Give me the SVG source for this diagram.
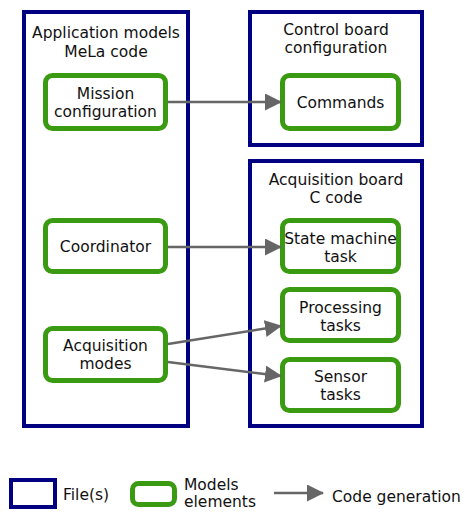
<svg xmlns="http://www.w3.org/2000/svg" width="474" height="527" viewBox="0 0 474 527">
<style>
.file{fill:#fff;stroke:#000080;stroke-width:4}
.model{fill:#fff;stroke:#3a9a12;stroke-width:5}
.t{font-family:"DejaVu Sans",sans-serif;font-size:15.5px;fill:#111;text-anchor:middle}
.tl{font-family:"DejaVu Sans",sans-serif;font-size:15.5px;fill:#111}
.c{stroke:#666;stroke-width:2.5;fill:none;marker-end:url(#ah)}
</style>
<defs>
<marker id="ah" markerUnits="userSpaceOnUse" markerWidth="18" markerHeight="18" refX="16" refY="8.5" orient="auto">
<path d="M0,0 L17,8.5 L0,17 Z" fill="#666"/>
</marker>
</defs>
<rect width="474" height="527" fill="#fff"/>
<g id="app-file">
<rect class="file" x="24" y="12" width="164" height="414"/>
<text class="t" x="106" y="38">Application models</text>
<text class="t" x="106" y="57">MeLa code</text>
</g>
<g id="control-file">
<rect class="file" x="250" y="12" width="172" height="133"/>
<text class="t" x="336" y="35">Control board</text>
<text class="t" x="336" y="53">configuration</text>
</g>
<g id="acq-file">
<rect class="file" x="250" y="161" width="172" height="265"/>
<text class="t" x="336" y="185">Acquisition board</text>
<text class="t" x="336" y="203">C code</text>
</g>
<g id="mission">
<rect class="model" x="45.5" y="75.5" width="120" height="53" rx="7"/>
<text class="t" x="105.5" y="99">Mission</text>
<text class="t" x="105.5" y="117">configuration</text>
</g>
<g id="coordinator">
<rect class="model" x="45.5" y="220.5" width="120" height="51" rx="7"/>
<text class="t" x="105.5" y="252">Coordinator</text>
</g>
<g id="acq-modes">
<rect class="model" x="45.5" y="328.5" width="120" height="52" rx="7"/>
<text class="t" x="105.5" y="351">Acquisition</text>
<text class="t" x="105.5" y="369">modes</text>
</g>
<g id="commands">
<rect class="model" x="282.5" y="75.5" width="116" height="53" rx="7"/>
<text class="t" x="340.5" y="108">Commands</text>
</g>
<g id="state-machine">
<rect class="model" x="282.5" y="220.5" width="116" height="51" rx="7"/>
<text class="t" x="340.5" y="244">State machine</text>
<text class="t" x="340.5" y="262">task</text>
</g>
<g id="processing">
<rect class="model" x="282.5" y="289.5" width="116" height="51" rx="7"/>
<text class="t" x="340.5" y="313">Processing</text>
<text class="t" x="340.5" y="331">tasks</text>
</g>
<g id="sensor">
<rect class="model" x="282.5" y="359.5" width="116" height="51" rx="7"/>
<text class="t" x="340.5" y="382">Sensor</text>
<text class="t" x="340.5" y="400">tasks</text>
</g>
<g id="connectors">
<line class="c" x1="168" y1="102" x2="281" y2="102"/>
<line class="c" x1="168" y1="247" x2="281" y2="247"/>
<line class="c" x1="168" y1="344" x2="281" y2="326"/>
<line class="c" x1="168" y1="362" x2="281" y2="376"/>
</g>
<g id="legend">
<rect class="file" x="11" y="480" width="44" height="27"/>
<text class="tl" x="63" y="500">File(s)</text>
<rect class="model" x="132.5" y="483.5" width="42" height="21" rx="6"/>
<text class="tl" x="184" y="490">Models</text>
<text class="tl" x="184" y="507">elements</text>
<line class="c" x1="274" y1="493" x2="323" y2="493"/>
<text class="tl" x="332" y="502">Code generation</text>
</g>
</svg>
